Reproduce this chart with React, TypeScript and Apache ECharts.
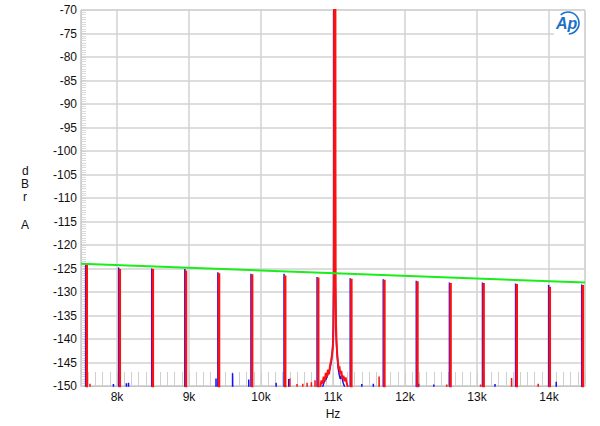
import React, { useEffect, useRef } from "react";
import * as echarts from "echarts";

// J-Test sidebands (Hz) and levels (dBrA)
const sidebandFreqs = [7580, 8039, 8498, 8958, 9417, 9877, 10336, 10795, 11255, 11714, 12173, 12633, 13092, 13552, 14011, 14470];
const redPeaks = [-124.1, -125.1, -125.1, -125.4, -126.0, -126.2, -126.5, -126.9, -127.2, -127.4, -127.7, -128.1, -128.1, -128.3, -128.9, -128.5];
const bluePeaks = [-124.0, -124.8, -125.0, -125.1, -125.8, -126.1, -126.1, -126.8, -127.1, -127.3, -127.6, -128.0, -128.0, -128.2, -128.5, -128.4];

// main tone skirt
const redSkirt: [number, number][] = [
  [10820, -150.5], [10840, -148.8], [10855, -149.5], [10870, -148], [10885, -149], [10900, -147.2],
  [10915, -148.2], [10930, -146.5], [10945, -147.5], [10960, -145.5], [10975, -144.5], [10990, -143],
  [11000, -141], [11008, -137], [11013, -128], [11016, -100], [11017, -40], [11033, -40], [11034, -100],
  [11037, -128], [11042, -137], [11050, -141], [11060, -143.5], [11070, -145], [11080, -146.5],
  [11090, -145.8], [11100, -147.5], [11115, -146.8], [11130, -148.5], [11145, -147.8], [11160, -149],
  [11175, -148.2], [11190, -149.3], [11210, -150.5],
];
const blueSkirt: [number, number][] = [
  [10850, -150.5], [10880, -149], [10905, -148.5], [10930, -147.5], [10955, -146.5], [10975, -145],
  [10995, -142], [11003, -138], [11008, -128], [11011, -100], [11012, -40], [11024, -40], [11026, -100],
  [11031, -128], [11040, -138], [11055, -143], [11070, -146], [11085, -147.5], [11100, -148.5],
  [11120, -147.8], [11140, -149.3], [11170, -150.5],
];

// low-level noise bits
const redNoise: [number, number][] = [
  [7625, -149.5], [10400, -148.4], [10500, -149.6], [10580, -149.5], [10640, -149.3], [10700, -149.2],
  [10750, -148.8], [11640, -148.0], [12580, -149.7], [13050, -149.7], [13480, -148.3], [13850, -149.5],
];
const blueNoise: [number, number][] = [
  [7950, -149.6], [8130, -149.4], [8160, -149.3], [9375, -148.4], [9605, -147.3], [9830, -148.6],
  [10210, -149.3], [10385, -148.5], [11400, -149.6], [11560, -149.5], [12190, -149.5], [12400, -149.7],
  [13250, -149.6], [14100, -149.1], [14460, -149.6],
];

// limit line
const limitLine: [number, number][] = [[7500, -124], [14500, -128]];

const X_MIN = 7500;
const X_MAX = 14500;
const Y_MIN = -150;
const Y_MAX = -70;
const FLOOR = -156;

function spikes(freqs: number[], peaks: number[], offset: number): [number, number][] {
  const out: [number, number][] = [];
  freqs.forEach((f, i) => {
    out.push([f + offset, FLOOR], [f + offset, peaks[i]], [f + offset, FLOOR]);
  });
  return out;
}
function bits(list: [number, number][], offset: number): [number, number][] {
  const out: [number, number][] = [];
  list.forEach(([f, v]) => {
    out.push([f + offset, FLOOR], [f + offset, v], [f + offset + 6, v], [f + offset + 6, FLOOR]);
  });
  return out;
}
function shift(list: [number, number][], offset: number): [number, number][] {
  return list.map(([f, v]) => [f + offset, v] as [number, number]);
}

const FONT = 'Arial, "Liberation Sans", sans-serif';
const RED = "#ff1010";
const BLUE = "#1010ff";

export default function App() {
  const ref = useRef<HTMLDivElement>(null);
  useEffect(() => {
    if (!ref.current) return;
    const chart = echarts.init(ref.current, undefined, { renderer: "svg" });
    const lineBase = {
      type: "line" as const,
      showSymbol: false,
      symbol: "none",
      clip: true,
      silent: true,
      xAxisIndex: 0,
      yAxisIndex: 0,
    };
    chart.setOption({
      animation: false,
      backgroundColor: "#ffffff",
      grid: {
        left: 81,
        top: 10,
        right: 15,
        bottom: 40,
        show: true,
        borderColor: "#c4c4c4",
        borderWidth: 1,
        backgroundColor: "transparent",
      },
      xAxis: [
        {
          type: "value",
          min: X_MIN,
          max: X_MAX,
          splitNumber: 7,
          axisLine: { show: true, lineStyle: { color: "#c4c4c4", width: 1 } },
          axisTick: { show: false },
          axisLabel: {
            showMinLabel: false,
            showMaxLabel: false,
            color: "#111",
            fontFamily: FONT,
            fontSize: 12,
            margin: 5,
            formatter: (v: number) => `${v / 1000}k`,
          },
          splitLine: { show: true, lineStyle: { color: "#d2d2d2", width: 1.5 } },
        },
        {
          type: "value",
          min: X_MIN,
          max: X_MAX,
          interval: 100,
          position: "bottom",
          axisLine: { show: false },
          axisTick: { show: true, inside: true, length: 14, lineStyle: { color: "#cfcfcf", width: 1 } },
          axisLabel: { show: false },
          splitLine: { show: false },
        },
      ],
      yAxis: {
        type: "value",
        min: Y_MIN,
        max: Y_MAX,
        interval: 5,
        axisLine: { show: true, lineStyle: { color: "#c4c4c4", width: 1 } },
        axisTick: { show: true, inside: true, length: 5, lineStyle: { color: "#cfcfcf" } },
        minorTick: { show: true, splitNumber: 10, length: 5, lineStyle: { color: "#dadada", width: 1 } },
        axisLabel: { color: "#111", fontFamily: FONT, fontSize: 12, margin: 4 },
        splitLine: { show: true, lineStyle: { color: "#d2d2d2", width: 1.5 } },
      },
      series: [
        { ...lineBase, name: "blueSidebands", data: spikes(sidebandFreqs, bluePeaks, -16), lineStyle: { color: BLUE, width: 1.5 } },
        { ...lineBase, name: "blueNoise", data: bits(blueNoise, 0), lineStyle: { color: BLUE, width: 1.5 } },
        { ...lineBase, name: "blueSkirt", data: shift(blueSkirt, 0), lineStyle: { color: BLUE, width: 1.5 } },
        { ...lineBase, name: "redSidebands", data: spikes(sidebandFreqs, redPeaks, 0), lineStyle: { color: RED, width: 2.5 } },
        { ...lineBase, name: "redNoise", data: bits(redNoise, 0), lineStyle: { color: RED, width: 1.5 } },
        { ...lineBase, name: "redSkirt", data: redSkirt, lineStyle: { color: RED, width: 2 } },
        { ...lineBase, name: "limit", data: limitLine, lineStyle: { color: "#1aee1a", width: 2 } },
      ],
      graphic: [
        { type: "text", left: 22, top: 165, style: { text: "d", font: `12px ${FONT}`, fill: "#111" } },
        { type: "text", left: 21, top: 178, style: { text: "B", font: `12px ${FONT}`, fill: "#111" } },
        { type: "text", left: 23, top: 191, style: { text: "r", font: `12px ${FONT}`, fill: "#111" } },
        { type: "text", left: 21, top: 219, style: { text: "A", font: `12px ${FONT}`, fill: "#111" } },
        {
          type: "text",
          x: 333,
          y: 414,
          style: { text: "Hz", font: `12px ${FONT}`, fill: "#111", align: "center", verticalAlign: "middle" },
        },
        { type: "rect", shape: { x: 554, y: 11, width: 30, height: 25 }, style: { fill: "#ffffff" }, z: 10 },
        {
          type: "arc",
          shape: { cx: 568, cy: 23, r: 11, startAngle: -2.3, endAngle: 1.5, clockwise: true },
          style: { stroke: "#1d70c8", lineWidth: 1.6, fill: "none" },
          z: 11,
        },
        {
          type: "text",
          x: 556,
          y: 15,
          style: {
            text: "Ap",
            font: `italic bold 16px ${FONT}`,
            fill: "#1d70c8",
          },
          z: 12,
        },
      ],
    });
    return () => chart.dispose();
  }, []);
  return <div ref={ref} style={{ position: "fixed", left: 0, top: 0, width: 600, height: 426 }} />;
}
